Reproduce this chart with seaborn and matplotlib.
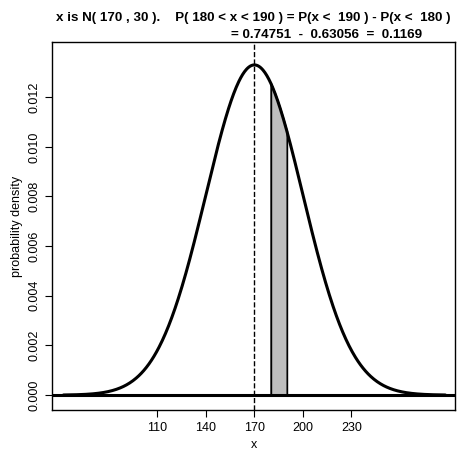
import numpy as np
import matplotlib
matplotlib.use("Agg")
import matplotlib.pyplot as plt
import seaborn as sns

sns.set_style("white")
plt.rcParams['font.family'] = ['Liberation Sans', 'DejaVu Sans']
plt.rcParams['text.color'] = 'black'
plt.rcParams['axes.labelcolor'] = 'black'
plt.rcParams['xtick.color'] = 'black'
plt.rcParams['ytick.color'] = 'black'

mu, sd = 170, 30
lo, hi = 180, 190
xticks = [110, 140, 170, 200, 230]
yticks = [0.000, 0.002, 0.004, 0.006, 0.008, 0.010, 0.012]

x = np.linspace(52, 288, 600)
y = np.exp(-0.5*((x-mu)/sd)**2)/(sd*np.sqrt(2*np.pi))

fig = plt.figure(figsize=(4.74, 4.67), dpi=100)
ax = fig.add_axes([0.110, 0.122, 0.850, 0.788])
sns.lineplot(x=x, y=y, ax=ax, color='black', lw=2.2)
xs = np.linspace(lo, hi, 100)
ys = np.exp(-0.5*((xs-mu)/sd)**2)/(sd*np.sqrt(2*np.pi))
ax.fill_between(xs, 0, ys, color='#bebebe', edgecolor='black', lw=1)
ax.plot([lo, lo], [0, ys[0]], color='black', lw=1)
ax.plot([hi, hi], [0, ys[-1]], color='black', lw=1)
ax.axhline(0, color='black', lw=2.2)
ax.axvline(mu, color='black', lw=1, ls='--')
ax.set_xlim(45, 294)
ax.set_ylim(-0.0006, 0.01422)
ax.set_xticks(xticks)
ax.set_yticks(yticks)
ax.set_yticklabels([f"{v:.3f}" for v in yticks], rotation=90, va='center')
ax.tick_params(axis='both', labelsize=9, length=5, direction='out', bottom=True, left=True)
ax.set_xlabel("x", fontsize=9)
ax.set_ylabel("probability density", fontsize=9)
for s in ax.spines.values():
    s.set_color('black'); s.set_linewidth(1)
fig.text(0.535, 0.975, "x is N( 170 , 30 ).    P( 180 < x < 190 ) = P(x <  190 ) - P(x <  180 )",
         ha='center', va='top', fontsize=9.6, fontweight='bold')
fig.text(0.89, 0.938, "= 0.74751  -  0.63056  =  0.1169",
         ha='right', va='top', fontsize=9.6, fontweight='bold')
fig.savefig("out.png", dpi=100)
